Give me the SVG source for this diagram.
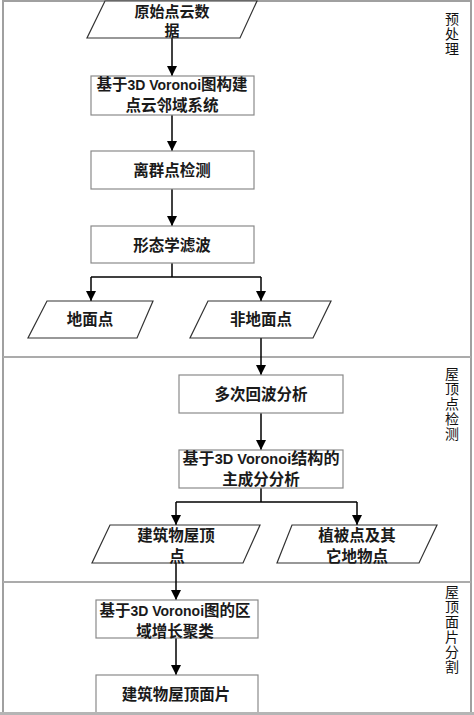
<svg xmlns="http://www.w3.org/2000/svg" width="474" height="715" viewBox="0 0 474 715">
<style>
.box{fill:#fff;stroke:#8a8a8a;stroke-width:1.2}
.para{fill:#fff;stroke:#333;stroke-width:1.2}
.t{font-family:"Noto Sans CJK SC","Liberation Sans",sans-serif;font-size:15.5px;font-weight:bold;fill:#1a1a1a;text-anchor:middle}
.lat{font-family:"Liberation Sans","Noto Sans CJK SC",sans-serif;font-weight:bold;font-size:14px}
.lab{font-family:"Noto Sans CJK SC",sans-serif;font-size:14px;fill:#111;writing-mode:vertical-rl;text-anchor:start;letter-spacing:1px}
.sep{stroke:#ababab;stroke-width:2;fill:none}
.c{stroke:#000;stroke-width:1.5;fill:none}
.ca{stroke:#000;stroke-width:1.5;fill:none;marker-end:url(#ah)}
</style>
<defs>
<marker id="ah" markerUnits="userSpaceOnUse" markerWidth="10" markerHeight="11" refX="10" refY="5" orient="auto" viewBox="0 0 10 10">
<path d="M0,0 L10,5 L0,10 z" fill="#000"/>
</marker>
</defs>
<rect x="0" y="0" width="474" height="715" fill="#fff"/>
<g id="frame">
<rect x="3" y="1" width="468" height="712" fill="none" stroke="#a0a0a0" stroke-width="2"/>
<line class="sep" x1="3" y1="357" x2="471" y2="357"/>
<line class="sep" x1="3" y1="582" x2="471" y2="582"/>
</g>
<g id="lane-labels">
<text class="lab" x="452" y="12">预处理</text>
<text class="lab" x="452" y="367">屋顶点检测</text>
<text class="lab" x="452" y="585">屋顶面片分割</text>
</g>
<g id="connectors">
<line class="ca" x1="172" y1="38" x2="172" y2="76"/>
<line class="ca" x1="172" y1="115" x2="172" y2="151"/>
<line class="ca" x1="172" y1="189" x2="172" y2="226"/>
<polyline class="c" points="172,263 172,277"/>
<polyline class="c" points="91,277 261,277"/>
<line class="ca" x1="91" y1="277" x2="91" y2="301"/>
<line class="ca" x1="261" y1="277" x2="261" y2="301"/>
<line class="ca" x1="261" y1="338" x2="261" y2="375"/>
<line class="ca" x1="261" y1="413" x2="261" y2="450"/>
<polyline class="c" points="261,488 261,502"/>
<polyline class="c" points="176,502 357,502"/>
<line class="ca" x1="176" y1="502" x2="176" y2="525"/>
<line class="ca" x1="357" y1="502" x2="357" y2="525"/>
<line class="ca" x1="176" y1="563" x2="176" y2="600"/>
<line class="ca" x1="176" y1="638" x2="176" y2="675"/>
</g>
<g id="n1">
<polygon class="para" points="105,1 257,1 240,38 87,38"/>
<text class="t" x="172" y="16.5" style="font-size:15px">原始点云数</text>
<text class="t" x="172" y="36" style="font-size:15px">据</text>
</g>
<g id="n2">
<rect class="box" x="91" y="76" width="163" height="39"/>
<text class="t" x="172" y="90" textLength="151" lengthAdjust="spacingAndGlyphs">基于<tspan class="lat">3D Voronoi</tspan>图构建</text>
<text class="t" x="172" y="111">点云邻域系统</text>
</g>
<g id="n3">
<rect class="box" x="91" y="151" width="163" height="38"/>
<text class="t" x="172" y="176">离群点检测</text>
</g>
<g id="n4">
<rect class="box" x="91" y="226" width="163" height="37"/>
<text class="t" x="172" y="251">形态学滤波</text>
</g>
<g id="n5">
<polygon class="para" points="47,301 153,301 137,338 28,338"/>
<text class="t" x="90" y="325">地面点</text>
</g>
<g id="n6">
<polygon class="para" points="208,301 331,301 313,338 190,338"/>
<text class="t" x="261" y="325">非地面点</text>
</g>
<g id="n7">
<rect class="box" x="179" y="375" width="164" height="38"/>
<text class="t" x="261" y="400">多次回波分析</text>
</g>
<g id="n8">
<rect class="box" x="179" y="450" width="164" height="38"/>
<text class="t" x="261" y="464" textLength="157" lengthAdjust="spacingAndGlyphs">基于<tspan class="lat">3D Voronoi</tspan>结构的</text>
<text class="t" x="261" y="485">主成分分析</text>
</g>
<g id="n9">
<polygon class="para" points="110,525 260,525 243,563 92,563"/>
<text class="t" x="176" y="541">建筑物屋顶</text>
<text class="t" x="177" y="562">点</text>
</g>
<g id="n10">
<polygon class="para" points="292,525 437,525 419,563 277,563"/>
<text class="t" x="357" y="541">植被点及其</text>
<text class="t" x="357" y="562">它地物点</text>
</g>
<g id="n11">
<rect class="box" x="96" y="600" width="162" height="38"/>
<text class="t" x="175" y="616" textLength="151" lengthAdjust="spacingAndGlyphs">基于<tspan class="lat">3D Voronoi</tspan>图的区</text>
<text class="t" x="175" y="637">域增长聚类</text>
</g>
<g id="n12">
<rect class="box" x="96" y="675" width="162" height="50"/>
<text class="t" x="176" y="700">建筑物屋顶面片</text>
</g>
<line x1="0" y1="713.5" x2="474" y2="713.5" stroke="#b5b5b5" stroke-width="3"/>
</svg>
